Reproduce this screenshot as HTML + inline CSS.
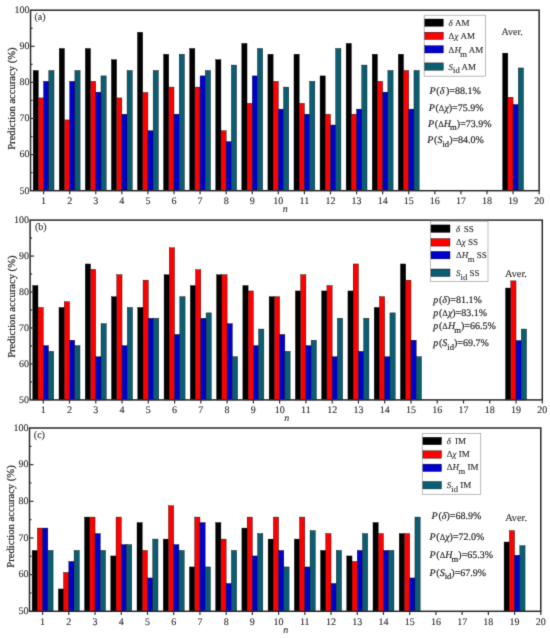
<!DOCTYPE html>
<html><head><meta charset="utf-8"><title>Prediction accuracy</title>
<style>
html,body{margin:0;padding:0;background:#fff;}
svg{display:block;}
text{font-family:"Liberation Serif", "Times New Roman", serif;fill:#383838;stroke:#383838;stroke-width:0.15px;text-rendering:geometricPrecision;}
.pt{fill:#2a2a2a;stroke:#2a2a2a;stroke-width:0.2px;}
.i{font-style:italic;}
</style></head><body>
<svg width="550" height="638" viewBox="0 0 550 638">
<defs><filter id="soft" x="0" y="0" width="550" height="638" filterUnits="userSpaceOnUse" color-interpolation-filters="sRGB"><feConvolveMatrix order="3" kernelMatrix="1 7 1 7 49 7 1 7 1" divisor="81" edgeMode="duplicate"/></filter></defs>
<rect x="0" y="0" width="550" height="638" fill="#fff"/>
<g filter="url(#soft)">
<rect x="0" y="0" width="550" height="638" fill="#fff"/>
<g>
<rect x="33.16" y="70.49" width="5.22" height="120.21" fill="#000000" stroke="#111" stroke-width="0.4"/>
<rect x="38.37" y="97.92" width="5.22" height="92.78" fill="#ff0000" stroke="#111" stroke-width="0.4"/>
<rect x="43.59" y="81.32" width="5.22" height="109.38" fill="#0000cc" stroke="#111" stroke-width="0.4"/>
<rect x="48.81" y="70.49" width="5.22" height="120.21" fill="#0b5e72" stroke="#111" stroke-width="0.4"/>
<rect x="59.24" y="48.47" width="5.22" height="142.23" fill="#000000" stroke="#111" stroke-width="0.4"/>
<rect x="64.46" y="119.94" width="5.22" height="70.76" fill="#ff0000" stroke="#111" stroke-width="0.4"/>
<rect x="69.67" y="81.32" width="5.22" height="109.38" fill="#0000cc" stroke="#111" stroke-width="0.4"/>
<rect x="74.89" y="70.49" width="5.22" height="120.21" fill="#0b5e72" stroke="#111" stroke-width="0.4"/>
<rect x="85.32" y="48.47" width="5.22" height="142.23" fill="#000000" stroke="#111" stroke-width="0.4"/>
<rect x="90.54" y="81.32" width="5.22" height="109.38" fill="#ff0000" stroke="#111" stroke-width="0.4"/>
<rect x="95.76" y="92.15" width="5.22" height="98.55" fill="#0000cc" stroke="#111" stroke-width="0.4"/>
<rect x="100.97" y="75.9" width="5.22" height="114.8" fill="#0b5e72" stroke="#111" stroke-width="0.4"/>
<rect x="111.4" y="59.66" width="5.22" height="131.04" fill="#000000" stroke="#111" stroke-width="0.4"/>
<rect x="116.62" y="97.92" width="5.22" height="92.78" fill="#ff0000" stroke="#111" stroke-width="0.4"/>
<rect x="121.84" y="114.17" width="5.22" height="76.53" fill="#0000cc" stroke="#111" stroke-width="0.4"/>
<rect x="127.05" y="70.49" width="5.22" height="120.21" fill="#0b5e72" stroke="#111" stroke-width="0.4"/>
<rect x="137.49" y="32.22" width="5.22" height="158.48" fill="#000000" stroke="#111" stroke-width="0.4"/>
<rect x="142.7" y="92.51" width="5.22" height="98.19" fill="#ff0000" stroke="#111" stroke-width="0.4"/>
<rect x="147.92" y="130.77" width="5.22" height="59.93" fill="#0000cc" stroke="#111" stroke-width="0.4"/>
<rect x="153.14" y="70.49" width="5.22" height="120.21" fill="#0b5e72" stroke="#111" stroke-width="0.4"/>
<rect x="163.57" y="54.24" width="5.22" height="136.46" fill="#000000" stroke="#111" stroke-width="0.4"/>
<rect x="168.78" y="87.09" width="5.22" height="103.61" fill="#ff0000" stroke="#111" stroke-width="0.4"/>
<rect x="174" y="114.17" width="5.22" height="76.53" fill="#0000cc" stroke="#111" stroke-width="0.4"/>
<rect x="179.22" y="54.24" width="5.22" height="136.46" fill="#0b5e72" stroke="#111" stroke-width="0.4"/>
<rect x="189.65" y="48.47" width="5.22" height="142.23" fill="#000000" stroke="#111" stroke-width="0.4"/>
<rect x="194.87" y="87.09" width="5.22" height="103.61" fill="#ff0000" stroke="#111" stroke-width="0.4"/>
<rect x="200.08" y="75.9" width="5.22" height="114.8" fill="#0000cc" stroke="#111" stroke-width="0.4"/>
<rect x="205.3" y="70.49" width="5.22" height="120.21" fill="#0b5e72" stroke="#111" stroke-width="0.4"/>
<rect x="215.73" y="59.66" width="5.22" height="131.04" fill="#000000" stroke="#111" stroke-width="0.4"/>
<rect x="220.95" y="130.77" width="5.22" height="59.93" fill="#ff0000" stroke="#111" stroke-width="0.4"/>
<rect x="226.17" y="141.6" width="5.22" height="49.1" fill="#0000cc" stroke="#111" stroke-width="0.4"/>
<rect x="231.38" y="65.07" width="5.22" height="125.63" fill="#0b5e72" stroke="#111" stroke-width="0.4"/>
<rect x="241.81" y="43.41" width="5.22" height="147.29" fill="#000000" stroke="#111" stroke-width="0.4"/>
<rect x="247.03" y="103.34" width="5.22" height="87.36" fill="#ff0000" stroke="#111" stroke-width="0.4"/>
<rect x="252.25" y="75.9" width="5.22" height="114.8" fill="#0000cc" stroke="#111" stroke-width="0.4"/>
<rect x="257.46" y="48.47" width="5.22" height="142.23" fill="#0b5e72" stroke="#111" stroke-width="0.4"/>
<rect x="267.9" y="54.24" width="5.22" height="136.46" fill="#000000" stroke="#111" stroke-width="0.4"/>
<rect x="273.11" y="81.32" width="5.22" height="109.38" fill="#ff0000" stroke="#111" stroke-width="0.4"/>
<rect x="278.33" y="109.11" width="5.22" height="81.59" fill="#0000cc" stroke="#111" stroke-width="0.4"/>
<rect x="283.55" y="87.09" width="5.22" height="103.61" fill="#0b5e72" stroke="#111" stroke-width="0.4"/>
<rect x="293.98" y="54.24" width="5.22" height="136.46" fill="#000000" stroke="#111" stroke-width="0.4"/>
<rect x="299.2" y="103.34" width="5.22" height="87.36" fill="#ff0000" stroke="#111" stroke-width="0.4"/>
<rect x="304.41" y="114.17" width="5.22" height="76.53" fill="#0000cc" stroke="#111" stroke-width="0.4"/>
<rect x="309.63" y="81.32" width="5.22" height="109.38" fill="#0b5e72" stroke="#111" stroke-width="0.4"/>
<rect x="320.06" y="75.9" width="5.22" height="114.8" fill="#000000" stroke="#111" stroke-width="0.4"/>
<rect x="325.28" y="114.17" width="5.22" height="76.53" fill="#ff0000" stroke="#111" stroke-width="0.4"/>
<rect x="330.49" y="125" width="5.22" height="65.7" fill="#0000cc" stroke="#111" stroke-width="0.4"/>
<rect x="335.71" y="48.47" width="5.22" height="142.23" fill="#0b5e72" stroke="#111" stroke-width="0.4"/>
<rect x="346.14" y="43.41" width="5.22" height="147.29" fill="#000000" stroke="#111" stroke-width="0.4"/>
<rect x="351.36" y="114.17" width="5.22" height="76.53" fill="#ff0000" stroke="#111" stroke-width="0.4"/>
<rect x="356.58" y="109.11" width="5.22" height="81.59" fill="#0000cc" stroke="#111" stroke-width="0.4"/>
<rect x="361.79" y="65.07" width="5.22" height="125.63" fill="#0b5e72" stroke="#111" stroke-width="0.4"/>
<rect x="372.22" y="54.24" width="5.22" height="136.46" fill="#000000" stroke="#111" stroke-width="0.4"/>
<rect x="377.44" y="81.32" width="5.22" height="109.38" fill="#ff0000" stroke="#111" stroke-width="0.4"/>
<rect x="382.66" y="92.15" width="5.22" height="98.55" fill="#0000cc" stroke="#111" stroke-width="0.4"/>
<rect x="387.87" y="70.49" width="5.22" height="120.21" fill="#0b5e72" stroke="#111" stroke-width="0.4"/>
<rect x="398.31" y="54.24" width="5.22" height="136.46" fill="#000000" stroke="#111" stroke-width="0.4"/>
<rect x="403.52" y="70.49" width="5.22" height="120.21" fill="#ff0000" stroke="#111" stroke-width="0.4"/>
<rect x="408.74" y="109.11" width="5.22" height="81.59" fill="#0000cc" stroke="#111" stroke-width="0.4"/>
<rect x="413.96" y="70.49" width="5.22" height="120.21" fill="#0b5e72" stroke="#111" stroke-width="0.4"/>
<rect x="502.64" y="53.16" width="5.22" height="137.54" fill="#000000" stroke="#111" stroke-width="0.4"/>
<rect x="507.85" y="97.2" width="5.22" height="93.5" fill="#ff0000" stroke="#111" stroke-width="0.4"/>
<rect x="513.07" y="104.42" width="5.22" height="86.28" fill="#0000cc" stroke="#111" stroke-width="0.4"/>
<rect x="518.28" y="67.96" width="5.22" height="122.74" fill="#0b5e72" stroke="#111" stroke-width="0.4"/>
<rect x="30.55" y="10.2" width="508.6" height="180.5" fill="none" stroke="#2b2b2b" stroke-width="1.5"/>
<line x1="30.55" y1="172.65" x2="32.55" y2="172.65" stroke="#333" stroke-width="1.2"/>
<line x1="30.55" y1="154.6" x2="34.55" y2="154.6" stroke="#333" stroke-width="1.2"/>
<line x1="30.55" y1="136.55" x2="32.55" y2="136.55" stroke="#333" stroke-width="1.2"/>
<line x1="30.55" y1="118.5" x2="34.55" y2="118.5" stroke="#333" stroke-width="1.2"/>
<line x1="30.55" y1="100.45" x2="32.55" y2="100.45" stroke="#333" stroke-width="1.2"/>
<line x1="30.55" y1="82.4" x2="34.55" y2="82.4" stroke="#333" stroke-width="1.2"/>
<line x1="30.55" y1="64.35" x2="32.55" y2="64.35" stroke="#333" stroke-width="1.2"/>
<line x1="30.55" y1="46.3" x2="34.55" y2="46.3" stroke="#333" stroke-width="1.2"/>
<line x1="30.55" y1="28.25" x2="32.55" y2="28.25" stroke="#333" stroke-width="1.2"/>
<text x="29.55" y="193.5" font-size="10" text-anchor="end">50</text>
<text x="29.55" y="157.4" font-size="10" text-anchor="end">60</text>
<text x="29.55" y="121.3" font-size="10" text-anchor="end">70</text>
<text x="29.55" y="85.2" font-size="10" text-anchor="end">80</text>
<text x="29.55" y="49.1" font-size="10" text-anchor="end">90</text>
<text x="29.55" y="13" font-size="10" text-anchor="end">100</text>
<line x1="43.59" y1="190.7" x2="43.59" y2="194.3" stroke="#333" stroke-width="1.2"/>
<text x="43.59" y="203.6" font-size="10" text-anchor="middle">1</text>
<line x1="69.67" y1="190.7" x2="69.67" y2="194.3" stroke="#333" stroke-width="1.2"/>
<text x="69.67" y="203.6" font-size="10" text-anchor="middle">2</text>
<line x1="95.76" y1="190.7" x2="95.76" y2="194.3" stroke="#333" stroke-width="1.2"/>
<text x="95.76" y="203.6" font-size="10" text-anchor="middle">3</text>
<line x1="121.84" y1="190.7" x2="121.84" y2="194.3" stroke="#333" stroke-width="1.2"/>
<text x="121.84" y="203.6" font-size="10" text-anchor="middle">4</text>
<line x1="147.92" y1="190.7" x2="147.92" y2="194.3" stroke="#333" stroke-width="1.2"/>
<text x="147.92" y="203.6" font-size="10" text-anchor="middle">5</text>
<line x1="174" y1="190.7" x2="174" y2="194.3" stroke="#333" stroke-width="1.2"/>
<text x="174" y="203.6" font-size="10" text-anchor="middle">6</text>
<line x1="200.08" y1="190.7" x2="200.08" y2="194.3" stroke="#333" stroke-width="1.2"/>
<text x="200.08" y="203.6" font-size="10" text-anchor="middle">7</text>
<line x1="226.17" y1="190.7" x2="226.17" y2="194.3" stroke="#333" stroke-width="1.2"/>
<text x="226.17" y="203.6" font-size="10" text-anchor="middle">8</text>
<line x1="252.25" y1="190.7" x2="252.25" y2="194.3" stroke="#333" stroke-width="1.2"/>
<text x="252.25" y="203.6" font-size="10" text-anchor="middle">9</text>
<line x1="278.33" y1="190.7" x2="278.33" y2="194.3" stroke="#333" stroke-width="1.2"/>
<text x="278.33" y="203.6" font-size="10" text-anchor="middle">10</text>
<line x1="304.41" y1="190.7" x2="304.41" y2="194.3" stroke="#333" stroke-width="1.2"/>
<text x="304.41" y="203.6" font-size="10" text-anchor="middle">11</text>
<line x1="330.49" y1="190.7" x2="330.49" y2="194.3" stroke="#333" stroke-width="1.2"/>
<text x="330.49" y="203.6" font-size="10" text-anchor="middle">12</text>
<line x1="356.58" y1="190.7" x2="356.58" y2="194.3" stroke="#333" stroke-width="1.2"/>
<text x="356.58" y="203.6" font-size="10" text-anchor="middle">13</text>
<line x1="382.66" y1="190.7" x2="382.66" y2="194.3" stroke="#333" stroke-width="1.2"/>
<text x="382.66" y="203.6" font-size="10" text-anchor="middle">14</text>
<line x1="408.74" y1="190.7" x2="408.74" y2="194.3" stroke="#333" stroke-width="1.2"/>
<text x="408.74" y="203.6" font-size="10" text-anchor="middle">15</text>
<line x1="434.82" y1="190.7" x2="434.82" y2="194.3" stroke="#333" stroke-width="1.2"/>
<text x="434.82" y="203.6" font-size="10" text-anchor="middle">16</text>
<line x1="460.9" y1="190.7" x2="460.9" y2="194.3" stroke="#333" stroke-width="1.2"/>
<text x="460.9" y="203.6" font-size="10" text-anchor="middle">17</text>
<line x1="486.99" y1="190.7" x2="486.99" y2="194.3" stroke="#333" stroke-width="1.2"/>
<text x="486.99" y="203.6" font-size="10" text-anchor="middle">18</text>
<line x1="513.07" y1="190.7" x2="513.07" y2="194.3" stroke="#333" stroke-width="1.2"/>
<text x="513.07" y="203.6" font-size="10" text-anchor="middle">19</text>
<line x1="539.15" y1="190.7" x2="539.15" y2="194.3" stroke="#333" stroke-width="1.2"/>
<text x="539.15" y="203.6" font-size="10" text-anchor="middle">20</text>
<text x="285.35" y="211.8" font-size="10" text-anchor="middle" class="i">n</text>
<text x="34.5" y="19.8" font-size="10">(a)</text>
<text class="pt" transform="translate(15.1 98.6) rotate(-90)" font-size="10.6" text-anchor="middle">Prediction accuracy (%)</text>
<text x="501.6" y="35.2" font-size="10">Aver.</text>
<rect x="424.2" y="15.2" width="61.3" height="61" fill="#fff" stroke="#aaa" stroke-width="0.8"/>
<rect x="424.8" y="19" width="18.5" height="7.3" fill="#000000" stroke="#111" stroke-width="0.4"/>
<text x="448.6" y="25.7" font-size="9"><tspan class="i">δ</tspan><tspan dx="0"> AM</tspan></text>
<rect x="424.8" y="32.2" width="18.5" height="7.3" fill="#ff0000" stroke="#111" stroke-width="0.4"/>
<text x="448.6" y="39" font-size="9">Δ<tspan class="i">χ</tspan> AM</text>
<rect x="424.8" y="45.7" width="18.5" height="7.3" fill="#0000cc" stroke="#111" stroke-width="0.4"/>
<text x="448.6" y="52.7" font-size="9">Δ<tspan class="i">H</tspan><tspan font-size="8.6" dx="-0.6" dy="3.8">m</tspan><tspan dy="-3.8"> AM</tspan></text>
<rect x="424.8" y="62.9" width="18.5" height="7.3" fill="#0b5e72" stroke="#111" stroke-width="0.4"/>
<text x="448.6" y="69.5" font-size="9"><tspan class="i">S</tspan><tspan font-size="8.6" dy="3.8">id</tspan><tspan dy="-3.8"> AM</tspan></text>
<text class="pt" x="429.5" y="93.9" font-size="10"><tspan class="i">P</tspan><tspan dx="0.7">(</tspan><tspan class="i">δ</tspan><tspan dx="1.6">)=88.1%</tspan></text>
<text class="pt" x="428.7" y="110.6" font-size="10"><tspan class="i">P</tspan><tspan dx="0.7">(</tspan><tspan font-size="8.6">Δ</tspan><tspan class="i">χ</tspan>)=75.9%</text>
<text class="pt" x="428" y="126.6" font-size="10"><tspan class="i">P</tspan><tspan dx="0.7">(</tspan><tspan font-size="8.6">Δ</tspan><tspan class="i">H</tspan><tspan font-size="8.6" dx="-0.8" dy="3.8">m</tspan><tspan dy="-3.8">)=73.9%</tspan></text>
<text class="pt" x="427.3" y="143.4" font-size="10"><tspan class="i">P</tspan><tspan dx="0.7">(</tspan><tspan class="i">S</tspan><tspan font-size="8.6" dy="3.8">id</tspan><tspan dy="-3.8">)=84.0%</tspan></text>
</g>
<g>
<rect x="32.73" y="285.55" width="5.25" height="114.35" fill="#000000" stroke="#111" stroke-width="0.4"/>
<rect x="37.98" y="307.48" width="5.25" height="92.42" fill="#ff0000" stroke="#111" stroke-width="0.4"/>
<rect x="43.23" y="345.6" width="5.25" height="54.3" fill="#0000cc" stroke="#111" stroke-width="0.4"/>
<rect x="48.49" y="351.35" width="5.25" height="48.55" fill="#0b5e72" stroke="#111" stroke-width="0.4"/>
<rect x="58.99" y="307.48" width="5.25" height="92.42" fill="#000000" stroke="#111" stroke-width="0.4"/>
<rect x="64.25" y="301.73" width="5.25" height="98.17" fill="#ff0000" stroke="#111" stroke-width="0.4"/>
<rect x="69.5" y="340.21" width="5.25" height="59.69" fill="#0000cc" stroke="#111" stroke-width="0.4"/>
<rect x="74.75" y="345.6" width="5.25" height="54.3" fill="#0b5e72" stroke="#111" stroke-width="0.4"/>
<rect x="85.26" y="263.97" width="5.25" height="135.93" fill="#000000" stroke="#111" stroke-width="0.4"/>
<rect x="90.51" y="269.37" width="5.25" height="130.53" fill="#ff0000" stroke="#111" stroke-width="0.4"/>
<rect x="95.77" y="356.75" width="5.25" height="43.15" fill="#0000cc" stroke="#111" stroke-width="0.4"/>
<rect x="101.02" y="323.66" width="5.25" height="76.24" fill="#0b5e72" stroke="#111" stroke-width="0.4"/>
<rect x="111.53" y="296.69" width="5.25" height="103.21" fill="#000000" stroke="#111" stroke-width="0.4"/>
<rect x="116.78" y="274.76" width="5.25" height="125.14" fill="#ff0000" stroke="#111" stroke-width="0.4"/>
<rect x="122.03" y="345.6" width="5.25" height="54.3" fill="#0000cc" stroke="#111" stroke-width="0.4"/>
<rect x="127.29" y="307.48" width="5.25" height="92.42" fill="#0b5e72" stroke="#111" stroke-width="0.4"/>
<rect x="137.79" y="307.48" width="5.25" height="92.42" fill="#000000" stroke="#111" stroke-width="0.4"/>
<rect x="143.05" y="280.15" width="5.25" height="119.75" fill="#ff0000" stroke="#111" stroke-width="0.4"/>
<rect x="148.3" y="318.27" width="5.25" height="81.63" fill="#0000cc" stroke="#111" stroke-width="0.4"/>
<rect x="153.55" y="318.27" width="5.25" height="81.63" fill="#0b5e72" stroke="#111" stroke-width="0.4"/>
<rect x="164.06" y="274.76" width="5.25" height="125.14" fill="#000000" stroke="#111" stroke-width="0.4"/>
<rect x="169.31" y="247.79" width="5.25" height="152.11" fill="#ff0000" stroke="#111" stroke-width="0.4"/>
<rect x="174.57" y="334.45" width="5.25" height="65.45" fill="#0000cc" stroke="#111" stroke-width="0.4"/>
<rect x="179.82" y="296.69" width="5.25" height="103.21" fill="#0b5e72" stroke="#111" stroke-width="0.4"/>
<rect x="190.33" y="285.55" width="5.25" height="114.35" fill="#000000" stroke="#111" stroke-width="0.4"/>
<rect x="195.58" y="269.72" width="5.25" height="130.18" fill="#ff0000" stroke="#111" stroke-width="0.4"/>
<rect x="200.83" y="318.27" width="5.25" height="81.63" fill="#0000cc" stroke="#111" stroke-width="0.4"/>
<rect x="206.09" y="312.88" width="5.25" height="87.02" fill="#0b5e72" stroke="#111" stroke-width="0.4"/>
<rect x="216.59" y="274.76" width="5.25" height="125.14" fill="#000000" stroke="#111" stroke-width="0.4"/>
<rect x="221.85" y="274.76" width="5.25" height="125.14" fill="#ff0000" stroke="#111" stroke-width="0.4"/>
<rect x="227.1" y="323.66" width="5.25" height="76.24" fill="#0000cc" stroke="#111" stroke-width="0.4"/>
<rect x="232.35" y="356.75" width="5.25" height="43.15" fill="#0b5e72" stroke="#111" stroke-width="0.4"/>
<rect x="242.86" y="285.55" width="5.25" height="114.35" fill="#000000" stroke="#111" stroke-width="0.4"/>
<rect x="248.11" y="290.94" width="5.25" height="108.96" fill="#ff0000" stroke="#111" stroke-width="0.4"/>
<rect x="253.37" y="345.6" width="5.25" height="54.3" fill="#0000cc" stroke="#111" stroke-width="0.4"/>
<rect x="258.62" y="329.06" width="5.25" height="70.84" fill="#0b5e72" stroke="#111" stroke-width="0.4"/>
<rect x="269.13" y="296.69" width="5.25" height="103.21" fill="#000000" stroke="#111" stroke-width="0.4"/>
<rect x="274.38" y="296.69" width="5.25" height="103.21" fill="#ff0000" stroke="#111" stroke-width="0.4"/>
<rect x="279.63" y="334.45" width="5.25" height="65.45" fill="#0000cc" stroke="#111" stroke-width="0.4"/>
<rect x="284.89" y="351.35" width="5.25" height="48.55" fill="#0b5e72" stroke="#111" stroke-width="0.4"/>
<rect x="295.39" y="290.94" width="5.25" height="108.96" fill="#000000" stroke="#111" stroke-width="0.4"/>
<rect x="300.65" y="274.76" width="5.25" height="125.14" fill="#ff0000" stroke="#111" stroke-width="0.4"/>
<rect x="305.9" y="345.6" width="5.25" height="54.3" fill="#0000cc" stroke="#111" stroke-width="0.4"/>
<rect x="311.15" y="340.21" width="5.25" height="59.69" fill="#0b5e72" stroke="#111" stroke-width="0.4"/>
<rect x="321.66" y="290.94" width="5.25" height="108.96" fill="#000000" stroke="#111" stroke-width="0.4"/>
<rect x="326.91" y="285.55" width="5.25" height="114.35" fill="#ff0000" stroke="#111" stroke-width="0.4"/>
<rect x="332.17" y="356.75" width="5.25" height="43.15" fill="#0000cc" stroke="#111" stroke-width="0.4"/>
<rect x="337.42" y="318.27" width="5.25" height="81.63" fill="#0b5e72" stroke="#111" stroke-width="0.4"/>
<rect x="347.93" y="290.94" width="5.25" height="108.96" fill="#000000" stroke="#111" stroke-width="0.4"/>
<rect x="353.18" y="263.97" width="5.25" height="135.93" fill="#ff0000" stroke="#111" stroke-width="0.4"/>
<rect x="358.43" y="351.35" width="5.25" height="48.55" fill="#0000cc" stroke="#111" stroke-width="0.4"/>
<rect x="363.69" y="318.27" width="5.25" height="81.63" fill="#0b5e72" stroke="#111" stroke-width="0.4"/>
<rect x="374.19" y="307.48" width="5.25" height="92.42" fill="#000000" stroke="#111" stroke-width="0.4"/>
<rect x="379.45" y="296.69" width="5.25" height="103.21" fill="#ff0000" stroke="#111" stroke-width="0.4"/>
<rect x="384.7" y="356.75" width="5.25" height="43.15" fill="#0000cc" stroke="#111" stroke-width="0.4"/>
<rect x="389.95" y="312.88" width="5.25" height="87.02" fill="#0b5e72" stroke="#111" stroke-width="0.4"/>
<rect x="400.46" y="263.97" width="5.25" height="135.93" fill="#000000" stroke="#111" stroke-width="0.4"/>
<rect x="405.71" y="280.15" width="5.25" height="119.75" fill="#ff0000" stroke="#111" stroke-width="0.4"/>
<rect x="410.97" y="340.21" width="5.25" height="59.69" fill="#0000cc" stroke="#111" stroke-width="0.4"/>
<rect x="416.22" y="356.75" width="5.25" height="43.15" fill="#0b5e72" stroke="#111" stroke-width="0.4"/>
<rect x="505.53" y="288.06" width="5.25" height="111.84" fill="#000000" stroke="#111" stroke-width="0.4"/>
<rect x="510.78" y="280.87" width="5.25" height="119.03" fill="#ff0000" stroke="#111" stroke-width="0.4"/>
<rect x="516.03" y="340.57" width="5.25" height="59.33" fill="#0000cc" stroke="#111" stroke-width="0.4"/>
<rect x="521.29" y="329.06" width="5.25" height="70.84" fill="#0b5e72" stroke="#111" stroke-width="0.4"/>
<rect x="30.1" y="220.1" width="512.2" height="179.8" fill="none" stroke="#2b2b2b" stroke-width="1.5"/>
<line x1="30.1" y1="381.92" x2="32.1" y2="381.92" stroke="#333" stroke-width="1.2"/>
<line x1="30.1" y1="363.94" x2="34.1" y2="363.94" stroke="#333" stroke-width="1.2"/>
<line x1="30.1" y1="345.96" x2="32.1" y2="345.96" stroke="#333" stroke-width="1.2"/>
<line x1="30.1" y1="327.98" x2="34.1" y2="327.98" stroke="#333" stroke-width="1.2"/>
<line x1="30.1" y1="310" x2="32.1" y2="310" stroke="#333" stroke-width="1.2"/>
<line x1="30.1" y1="292.02" x2="34.1" y2="292.02" stroke="#333" stroke-width="1.2"/>
<line x1="30.1" y1="274.04" x2="32.1" y2="274.04" stroke="#333" stroke-width="1.2"/>
<line x1="30.1" y1="256.06" x2="34.1" y2="256.06" stroke="#333" stroke-width="1.2"/>
<line x1="30.1" y1="238.08" x2="32.1" y2="238.08" stroke="#333" stroke-width="1.2"/>
<text x="29.1" y="402.7" font-size="10" text-anchor="end">50</text>
<text x="29.1" y="366.74" font-size="10" text-anchor="end">60</text>
<text x="29.1" y="330.78" font-size="10" text-anchor="end">70</text>
<text x="29.1" y="294.82" font-size="10" text-anchor="end">80</text>
<text x="29.1" y="258.86" font-size="10" text-anchor="end">90</text>
<text x="29.1" y="222.9" font-size="10" text-anchor="end">100</text>
<line x1="43.23" y1="399.9" x2="43.23" y2="403.5" stroke="#333" stroke-width="1.2"/>
<text x="43.23" y="412.6" font-size="10" text-anchor="middle">1</text>
<line x1="69.5" y1="399.9" x2="69.5" y2="403.5" stroke="#333" stroke-width="1.2"/>
<text x="69.5" y="412.6" font-size="10" text-anchor="middle">2</text>
<line x1="95.77" y1="399.9" x2="95.77" y2="403.5" stroke="#333" stroke-width="1.2"/>
<text x="95.77" y="412.6" font-size="10" text-anchor="middle">3</text>
<line x1="122.03" y1="399.9" x2="122.03" y2="403.5" stroke="#333" stroke-width="1.2"/>
<text x="122.03" y="412.6" font-size="10" text-anchor="middle">4</text>
<line x1="148.3" y1="399.9" x2="148.3" y2="403.5" stroke="#333" stroke-width="1.2"/>
<text x="148.3" y="412.6" font-size="10" text-anchor="middle">5</text>
<line x1="174.57" y1="399.9" x2="174.57" y2="403.5" stroke="#333" stroke-width="1.2"/>
<text x="174.57" y="412.6" font-size="10" text-anchor="middle">6</text>
<line x1="200.83" y1="399.9" x2="200.83" y2="403.5" stroke="#333" stroke-width="1.2"/>
<text x="200.83" y="412.6" font-size="10" text-anchor="middle">7</text>
<line x1="227.1" y1="399.9" x2="227.1" y2="403.5" stroke="#333" stroke-width="1.2"/>
<text x="227.1" y="412.6" font-size="10" text-anchor="middle">8</text>
<line x1="253.37" y1="399.9" x2="253.37" y2="403.5" stroke="#333" stroke-width="1.2"/>
<text x="253.37" y="412.6" font-size="10" text-anchor="middle">9</text>
<line x1="279.63" y1="399.9" x2="279.63" y2="403.5" stroke="#333" stroke-width="1.2"/>
<text x="279.63" y="412.6" font-size="10" text-anchor="middle">10</text>
<line x1="305.9" y1="399.9" x2="305.9" y2="403.5" stroke="#333" stroke-width="1.2"/>
<text x="305.9" y="412.6" font-size="10" text-anchor="middle">11</text>
<line x1="332.17" y1="399.9" x2="332.17" y2="403.5" stroke="#333" stroke-width="1.2"/>
<text x="332.17" y="412.6" font-size="10" text-anchor="middle">12</text>
<line x1="358.43" y1="399.9" x2="358.43" y2="403.5" stroke="#333" stroke-width="1.2"/>
<text x="358.43" y="412.6" font-size="10" text-anchor="middle">13</text>
<line x1="384.7" y1="399.9" x2="384.7" y2="403.5" stroke="#333" stroke-width="1.2"/>
<text x="384.7" y="412.6" font-size="10" text-anchor="middle">14</text>
<line x1="410.97" y1="399.9" x2="410.97" y2="403.5" stroke="#333" stroke-width="1.2"/>
<text x="410.97" y="412.6" font-size="10" text-anchor="middle">15</text>
<line x1="437.23" y1="399.9" x2="437.23" y2="403.5" stroke="#333" stroke-width="1.2"/>
<text x="437.23" y="412.6" font-size="10" text-anchor="middle">16</text>
<line x1="463.5" y1="399.9" x2="463.5" y2="403.5" stroke="#333" stroke-width="1.2"/>
<text x="463.5" y="412.6" font-size="10" text-anchor="middle">17</text>
<line x1="489.77" y1="399.9" x2="489.77" y2="403.5" stroke="#333" stroke-width="1.2"/>
<text x="489.77" y="412.6" font-size="10" text-anchor="middle">18</text>
<line x1="516.03" y1="399.9" x2="516.03" y2="403.5" stroke="#333" stroke-width="1.2"/>
<text x="516.03" y="412.6" font-size="10" text-anchor="middle">19</text>
<line x1="542.3" y1="399.9" x2="542.3" y2="403.5" stroke="#333" stroke-width="1.2"/>
<text x="542.3" y="412.6" font-size="10" text-anchor="middle">20</text>
<text x="286.7" y="421.3" font-size="10" text-anchor="middle" class="i">n</text>
<text x="34.9" y="229.8" font-size="10">(b)</text>
<text class="pt" transform="translate(14.7 306.7) rotate(-90)" font-size="10.6" text-anchor="middle">Prediction accuracy (%)</text>
<text x="505" y="276.6" font-size="10.3">Aver.</text>
<rect x="430.4" y="221.2" width="57.6" height="60.2" fill="#fff" stroke="#aaa" stroke-width="0.8"/>
<rect x="431" y="224.9" width="19" height="7.5" fill="#000000" stroke="#111" stroke-width="0.4"/>
<text x="456" y="232.3" font-size="9"><tspan class="i">δ</tspan><tspan dx="1.2"> SS</tspan></text>
<rect x="431" y="238.6" width="19" height="7.5" fill="#ff0000" stroke="#111" stroke-width="0.4"/>
<text x="456" y="245.3" font-size="9">Δ<tspan class="i">χ</tspan> SS</text>
<rect x="431" y="251.4" width="19" height="7.5" fill="#0000cc" stroke="#111" stroke-width="0.4"/>
<text x="456" y="258.3" font-size="9">Δ<tspan class="i">H</tspan><tspan font-size="8.6" dx="-0.6" dy="3.8">m</tspan><tspan dy="-3.8"> SS</tspan></text>
<rect x="431" y="269" width="19" height="7.5" fill="#0b5e72" stroke="#111" stroke-width="0.4"/>
<text x="456" y="276" font-size="9"><tspan class="i">S</tspan><tspan font-size="8.6" dy="3.8">id</tspan><tspan dy="-3.8"> SS</tspan></text>
<text class="pt" x="433.3" y="303" font-size="10"><tspan class="i">p</tspan><tspan dx="0.7">(</tspan><tspan class="i">δ</tspan><tspan dx="0">)=81.1%</tspan></text>
<text class="pt" x="433.3" y="315.7" font-size="10"><tspan class="i">p</tspan><tspan dx="0.7">(</tspan><tspan font-size="8.6">Δ</tspan><tspan class="i">χ</tspan>)=83.1%</text>
<text class="pt" x="433.3" y="329.2" font-size="10"><tspan class="i">p</tspan><tspan dx="0.7">(</tspan><tspan font-size="8.6">Δ</tspan><tspan class="i">H</tspan><tspan font-size="8.6" dx="-0.8" dy="3.8">m</tspan><tspan dy="-3.8">)=66.5%</tspan></text>
<text class="pt" x="433.3" y="346.4" font-size="10"><tspan class="i">p</tspan><tspan dx="0.7">(</tspan><tspan class="i">S</tspan><tspan font-size="8.6" dy="3.8">id</tspan><tspan dy="-3.8">)=69.7%</tspan></text>
</g>
<g>
<rect x="32.12" y="550.44" width="5.24" height="60.86" fill="#000000" stroke="#111" stroke-width="0.4"/>
<rect x="37.37" y="528.08" width="5.24" height="83.22" fill="#ff0000" stroke="#111" stroke-width="0.4"/>
<rect x="42.61" y="528.08" width="5.24" height="83.22" fill="#0000cc" stroke="#111" stroke-width="0.4"/>
<rect x="47.85" y="550.44" width="5.24" height="60.86" fill="#0b5e72" stroke="#111" stroke-width="0.4"/>
<rect x="58.34" y="588.94" width="5.24" height="22.36" fill="#000000" stroke="#111" stroke-width="0.4"/>
<rect x="63.59" y="572.44" width="5.24" height="38.86" fill="#ff0000" stroke="#111" stroke-width="0.4"/>
<rect x="68.83" y="561.44" width="5.24" height="49.86" fill="#0000cc" stroke="#111" stroke-width="0.4"/>
<rect x="74.07" y="550.44" width="5.24" height="60.86" fill="#0b5e72" stroke="#111" stroke-width="0.4"/>
<rect x="84.56" y="517.08" width="5.24" height="94.22" fill="#000000" stroke="#111" stroke-width="0.4"/>
<rect x="89.81" y="517.08" width="5.24" height="94.22" fill="#ff0000" stroke="#111" stroke-width="0.4"/>
<rect x="95.05" y="533.58" width="5.24" height="77.72" fill="#0000cc" stroke="#111" stroke-width="0.4"/>
<rect x="100.3" y="550.44" width="5.24" height="60.86" fill="#0b5e72" stroke="#111" stroke-width="0.4"/>
<rect x="110.78" y="555.94" width="5.24" height="55.36" fill="#000000" stroke="#111" stroke-width="0.4"/>
<rect x="116.03" y="517.08" width="5.24" height="94.22" fill="#ff0000" stroke="#111" stroke-width="0.4"/>
<rect x="121.27" y="544.58" width="5.24" height="66.72" fill="#0000cc" stroke="#111" stroke-width="0.4"/>
<rect x="126.52" y="544.58" width="5.24" height="66.72" fill="#0b5e72" stroke="#111" stroke-width="0.4"/>
<rect x="137" y="522.58" width="5.24" height="88.72" fill="#000000" stroke="#111" stroke-width="0.4"/>
<rect x="142.25" y="550.44" width="5.24" height="60.86" fill="#ff0000" stroke="#111" stroke-width="0.4"/>
<rect x="147.49" y="577.94" width="5.24" height="33.36" fill="#0000cc" stroke="#111" stroke-width="0.4"/>
<rect x="152.74" y="539.08" width="5.24" height="72.22" fill="#0b5e72" stroke="#111" stroke-width="0.4"/>
<rect x="163.22" y="539.08" width="5.24" height="72.22" fill="#000000" stroke="#111" stroke-width="0.4"/>
<rect x="168.47" y="505.72" width="5.24" height="105.58" fill="#ff0000" stroke="#111" stroke-width="0.4"/>
<rect x="173.71" y="544.58" width="5.24" height="66.72" fill="#0000cc" stroke="#111" stroke-width="0.4"/>
<rect x="178.96" y="550.44" width="5.24" height="60.86" fill="#0b5e72" stroke="#111" stroke-width="0.4"/>
<rect x="189.45" y="566.94" width="5.24" height="44.36" fill="#000000" stroke="#111" stroke-width="0.4"/>
<rect x="194.69" y="517.08" width="5.24" height="94.22" fill="#ff0000" stroke="#111" stroke-width="0.4"/>
<rect x="199.93" y="522.58" width="5.24" height="88.72" fill="#0000cc" stroke="#111" stroke-width="0.4"/>
<rect x="205.18" y="566.94" width="5.24" height="44.36" fill="#0b5e72" stroke="#111" stroke-width="0.4"/>
<rect x="215.67" y="522.58" width="5.24" height="88.72" fill="#000000" stroke="#111" stroke-width="0.4"/>
<rect x="220.91" y="539.08" width="5.24" height="72.22" fill="#ff0000" stroke="#111" stroke-width="0.4"/>
<rect x="226.15" y="583.44" width="5.24" height="27.86" fill="#0000cc" stroke="#111" stroke-width="0.4"/>
<rect x="231.4" y="550.44" width="5.24" height="60.86" fill="#0b5e72" stroke="#111" stroke-width="0.4"/>
<rect x="241.89" y="528.08" width="5.24" height="83.22" fill="#000000" stroke="#111" stroke-width="0.4"/>
<rect x="247.13" y="517.08" width="5.24" height="94.22" fill="#ff0000" stroke="#111" stroke-width="0.4"/>
<rect x="252.37" y="555.94" width="5.24" height="55.36" fill="#0000cc" stroke="#111" stroke-width="0.4"/>
<rect x="257.62" y="533.58" width="5.24" height="77.72" fill="#0b5e72" stroke="#111" stroke-width="0.4"/>
<rect x="268.11" y="539.08" width="5.24" height="72.22" fill="#000000" stroke="#111" stroke-width="0.4"/>
<rect x="273.35" y="517.08" width="5.24" height="94.22" fill="#ff0000" stroke="#111" stroke-width="0.4"/>
<rect x="278.59" y="550.44" width="5.24" height="60.86" fill="#0000cc" stroke="#111" stroke-width="0.4"/>
<rect x="283.84" y="566.94" width="5.24" height="44.36" fill="#0b5e72" stroke="#111" stroke-width="0.4"/>
<rect x="294.33" y="539.08" width="5.24" height="72.22" fill="#000000" stroke="#111" stroke-width="0.4"/>
<rect x="299.57" y="517.08" width="5.24" height="94.22" fill="#ff0000" stroke="#111" stroke-width="0.4"/>
<rect x="304.82" y="566.94" width="5.24" height="44.36" fill="#0000cc" stroke="#111" stroke-width="0.4"/>
<rect x="310.06" y="530.65" width="5.24" height="80.65" fill="#0b5e72" stroke="#111" stroke-width="0.4"/>
<rect x="320.55" y="550.44" width="5.24" height="60.86" fill="#000000" stroke="#111" stroke-width="0.4"/>
<rect x="325.79" y="533.58" width="5.24" height="77.72" fill="#ff0000" stroke="#111" stroke-width="0.4"/>
<rect x="331.04" y="583.44" width="5.24" height="27.86" fill="#0000cc" stroke="#111" stroke-width="0.4"/>
<rect x="336.28" y="550.44" width="5.24" height="60.86" fill="#0b5e72" stroke="#111" stroke-width="0.4"/>
<rect x="346.77" y="555.94" width="5.24" height="55.36" fill="#000000" stroke="#111" stroke-width="0.4"/>
<rect x="352.01" y="561.44" width="5.24" height="49.86" fill="#ff0000" stroke="#111" stroke-width="0.4"/>
<rect x="357.26" y="550.44" width="5.24" height="60.86" fill="#0000cc" stroke="#111" stroke-width="0.4"/>
<rect x="362.5" y="533.58" width="5.24" height="77.72" fill="#0b5e72" stroke="#111" stroke-width="0.4"/>
<rect x="372.99" y="522.58" width="5.24" height="88.72" fill="#000000" stroke="#111" stroke-width="0.4"/>
<rect x="378.23" y="533.58" width="5.24" height="77.72" fill="#ff0000" stroke="#111" stroke-width="0.4"/>
<rect x="383.48" y="550.44" width="5.24" height="60.86" fill="#0000cc" stroke="#111" stroke-width="0.4"/>
<rect x="388.72" y="550.44" width="5.24" height="60.86" fill="#0b5e72" stroke="#111" stroke-width="0.4"/>
<rect x="399.21" y="533.58" width="5.24" height="77.72" fill="#000000" stroke="#111" stroke-width="0.4"/>
<rect x="404.45" y="533.58" width="5.24" height="77.72" fill="#ff0000" stroke="#111" stroke-width="0.4"/>
<rect x="409.7" y="577.94" width="5.24" height="33.36" fill="#0000cc" stroke="#111" stroke-width="0.4"/>
<rect x="414.94" y="517.08" width="5.24" height="94.22" fill="#0b5e72" stroke="#111" stroke-width="0.4"/>
<rect x="504.09" y="542.01" width="5.24" height="69.29" fill="#000000" stroke="#111" stroke-width="0.4"/>
<rect x="509.34" y="530.65" width="5.24" height="80.65" fill="#ff0000" stroke="#111" stroke-width="0.4"/>
<rect x="514.58" y="555.21" width="5.24" height="56.09" fill="#0000cc" stroke="#111" stroke-width="0.4"/>
<rect x="519.82" y="545.68" width="5.24" height="65.62" fill="#0b5e72" stroke="#111" stroke-width="0.4"/>
<rect x="29.5" y="428" width="511.3" height="183.3" fill="none" stroke="#2b2b2b" stroke-width="1.5"/>
<line x1="29.5" y1="592.97" x2="31.5" y2="592.97" stroke="#333" stroke-width="1.2"/>
<line x1="29.5" y1="574.64" x2="33.5" y2="574.64" stroke="#333" stroke-width="1.2"/>
<line x1="29.5" y1="556.31" x2="31.5" y2="556.31" stroke="#333" stroke-width="1.2"/>
<line x1="29.5" y1="537.98" x2="33.5" y2="537.98" stroke="#333" stroke-width="1.2"/>
<line x1="29.5" y1="519.65" x2="31.5" y2="519.65" stroke="#333" stroke-width="1.2"/>
<line x1="29.5" y1="501.32" x2="33.5" y2="501.32" stroke="#333" stroke-width="1.2"/>
<line x1="29.5" y1="482.99" x2="31.5" y2="482.99" stroke="#333" stroke-width="1.2"/>
<line x1="29.5" y1="464.66" x2="33.5" y2="464.66" stroke="#333" stroke-width="1.2"/>
<line x1="29.5" y1="446.33" x2="31.5" y2="446.33" stroke="#333" stroke-width="1.2"/>
<text x="28.5" y="614.1" font-size="10" text-anchor="end">50</text>
<text x="28.5" y="577.44" font-size="10" text-anchor="end">60</text>
<text x="28.5" y="540.78" font-size="10" text-anchor="end">70</text>
<text x="28.5" y="504.12" font-size="10" text-anchor="end">80</text>
<text x="28.5" y="467.46" font-size="10" text-anchor="end">90</text>
<text x="28.5" y="430.8" font-size="10" text-anchor="end">100</text>
<line x1="42.61" y1="611.3" x2="42.61" y2="614.9" stroke="#333" stroke-width="1.2"/>
<text x="42.61" y="625.2" font-size="10" text-anchor="middle">1</text>
<line x1="68.83" y1="611.3" x2="68.83" y2="614.9" stroke="#333" stroke-width="1.2"/>
<text x="68.83" y="625.2" font-size="10" text-anchor="middle">2</text>
<line x1="95.05" y1="611.3" x2="95.05" y2="614.9" stroke="#333" stroke-width="1.2"/>
<text x="95.05" y="625.2" font-size="10" text-anchor="middle">3</text>
<line x1="121.27" y1="611.3" x2="121.27" y2="614.9" stroke="#333" stroke-width="1.2"/>
<text x="121.27" y="625.2" font-size="10" text-anchor="middle">4</text>
<line x1="147.49" y1="611.3" x2="147.49" y2="614.9" stroke="#333" stroke-width="1.2"/>
<text x="147.49" y="625.2" font-size="10" text-anchor="middle">5</text>
<line x1="173.71" y1="611.3" x2="173.71" y2="614.9" stroke="#333" stroke-width="1.2"/>
<text x="173.71" y="625.2" font-size="10" text-anchor="middle">6</text>
<line x1="199.93" y1="611.3" x2="199.93" y2="614.9" stroke="#333" stroke-width="1.2"/>
<text x="199.93" y="625.2" font-size="10" text-anchor="middle">7</text>
<line x1="226.15" y1="611.3" x2="226.15" y2="614.9" stroke="#333" stroke-width="1.2"/>
<text x="226.15" y="625.2" font-size="10" text-anchor="middle">8</text>
<line x1="252.37" y1="611.3" x2="252.37" y2="614.9" stroke="#333" stroke-width="1.2"/>
<text x="252.37" y="625.2" font-size="10" text-anchor="middle">9</text>
<line x1="278.59" y1="611.3" x2="278.59" y2="614.9" stroke="#333" stroke-width="1.2"/>
<text x="278.59" y="625.2" font-size="10" text-anchor="middle">10</text>
<line x1="304.82" y1="611.3" x2="304.82" y2="614.9" stroke="#333" stroke-width="1.2"/>
<text x="304.82" y="625.2" font-size="10" text-anchor="middle">11</text>
<line x1="331.04" y1="611.3" x2="331.04" y2="614.9" stroke="#333" stroke-width="1.2"/>
<text x="331.04" y="625.2" font-size="10" text-anchor="middle">12</text>
<line x1="357.26" y1="611.3" x2="357.26" y2="614.9" stroke="#333" stroke-width="1.2"/>
<text x="357.26" y="625.2" font-size="10" text-anchor="middle">13</text>
<line x1="383.48" y1="611.3" x2="383.48" y2="614.9" stroke="#333" stroke-width="1.2"/>
<text x="383.48" y="625.2" font-size="10" text-anchor="middle">14</text>
<line x1="409.7" y1="611.3" x2="409.7" y2="614.9" stroke="#333" stroke-width="1.2"/>
<text x="409.7" y="625.2" font-size="10" text-anchor="middle">15</text>
<line x1="435.92" y1="611.3" x2="435.92" y2="614.9" stroke="#333" stroke-width="1.2"/>
<text x="435.92" y="625.2" font-size="10" text-anchor="middle">16</text>
<line x1="462.14" y1="611.3" x2="462.14" y2="614.9" stroke="#333" stroke-width="1.2"/>
<text x="462.14" y="625.2" font-size="10" text-anchor="middle">17</text>
<line x1="488.36" y1="611.3" x2="488.36" y2="614.9" stroke="#333" stroke-width="1.2"/>
<text x="488.36" y="625.2" font-size="10" text-anchor="middle">18</text>
<line x1="514.58" y1="611.3" x2="514.58" y2="614.9" stroke="#333" stroke-width="1.2"/>
<text x="514.58" y="625.2" font-size="10" text-anchor="middle">19</text>
<line x1="540.8" y1="611.3" x2="540.8" y2="614.9" stroke="#333" stroke-width="1.2"/>
<text x="540.8" y="625.2" font-size="10" text-anchor="middle">20</text>
<text x="285.65" y="633.4" font-size="10" text-anchor="middle" class="i">n</text>
<text x="33.8" y="437.6" font-size="10">(c)</text>
<text class="pt" transform="translate(13.9 516.5) rotate(-90)" font-size="10.6" text-anchor="middle">Prediction accuracy (%)</text>
<text x="505.2" y="521" font-size="10.3">Aver.</text>
<rect x="422.3" y="433.4" width="58.4" height="60.9" fill="#fff" stroke="#aaa" stroke-width="0.8"/>
<rect x="422.9" y="437.3" width="18.6" height="7.4" fill="#000000" stroke="#111" stroke-width="0.4"/>
<text x="446.8" y="443.6" font-size="9"><tspan class="i">δ</tspan><tspan dx="1.8"> IM</tspan></text>
<rect x="422.9" y="450.8" width="18.6" height="7.4" fill="#ff0000" stroke="#111" stroke-width="0.4"/>
<text x="446.8" y="457" font-size="9">Δ<tspan class="i">χ</tspan> IM</text>
<rect x="422.9" y="464.1" width="18.6" height="7.4" fill="#0000cc" stroke="#111" stroke-width="0.4"/>
<text x="446.8" y="470.3" font-size="9">Δ<tspan class="i">H</tspan><tspan font-size="8.6" dx="-0.6" dy="3.8">m</tspan><tspan dy="-3.8"> IM</tspan></text>
<rect x="422.9" y="481.5" width="18.6" height="7.4" fill="#0b5e72" stroke="#111" stroke-width="0.4"/>
<text x="446.8" y="487.7" font-size="9"><tspan class="i">S</tspan><tspan font-size="8.6" dy="3.8">id</tspan><tspan dy="-3.8"> IM</tspan></text>
<text class="pt" x="431.6" y="518.6" font-size="10"><tspan class="i">P</tspan><tspan dx="0.7">(</tspan><tspan class="i">δ</tspan><tspan dx="0">)=68.9%</tspan></text>
<text class="pt" x="429.5" y="540" font-size="10"><tspan class="i">P</tspan><tspan dx="0.7">(</tspan><tspan font-size="8.6">Δ</tspan><tspan class="i">χ</tspan>)=72.0%</text>
<text class="pt" x="429.5" y="558.2" font-size="10"><tspan class="i">P</tspan><tspan dx="0.7">(</tspan><tspan font-size="8.6">Δ</tspan><tspan class="i">H</tspan><tspan font-size="8.6" dx="-0.8" dy="3.8">m</tspan><tspan dy="-3.8">)=65.3%</tspan></text>
<text class="pt" x="429.5" y="575.6" font-size="10"><tspan class="i">P</tspan><tspan dx="0.7">(</tspan><tspan class="i">S</tspan><tspan font-size="8.6" dy="3.8">id</tspan><tspan dy="-3.8">)=67.9%</tspan></text>
</g>
</g>
</svg>
</body></html>
